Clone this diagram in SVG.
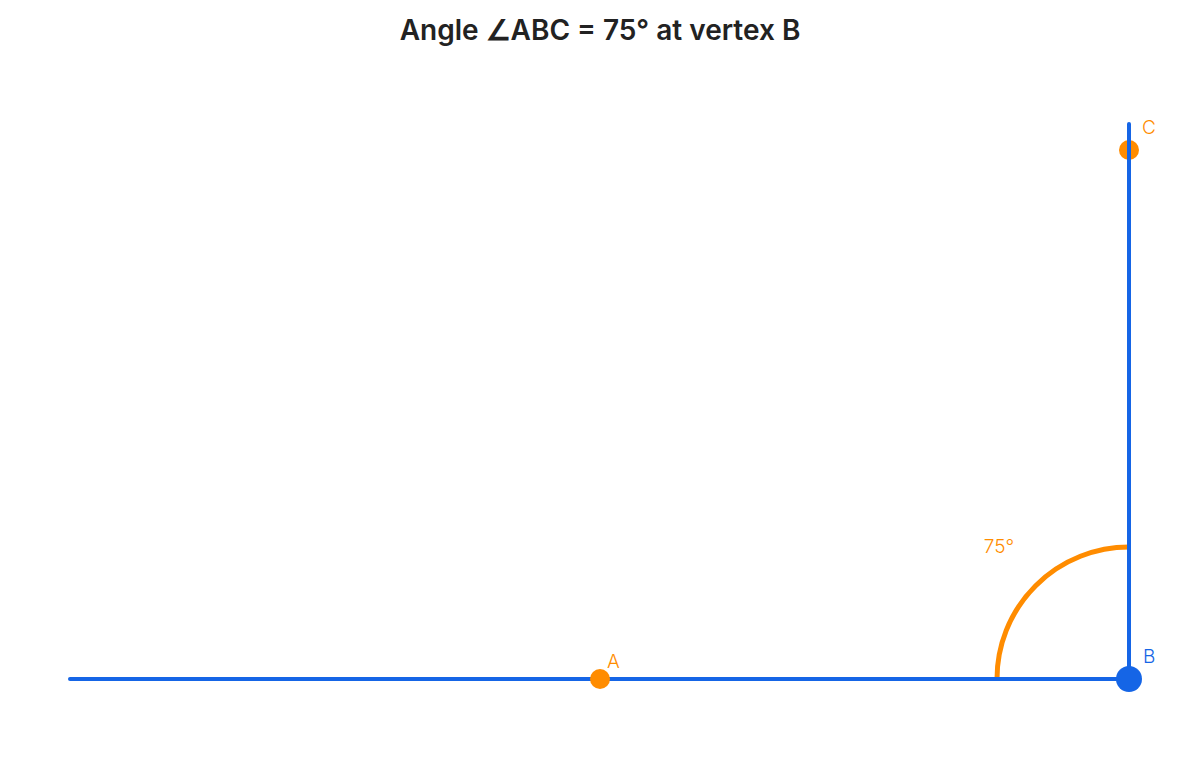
<svg xmlns="http://www.w3.org/2000/svg" width="1200" height="762" viewBox="0 0 1200 762">
<style>
.ray{stroke:#1565e6;stroke-width:4;stroke-linecap:round;fill:none}
.arc{stroke:#ff8c00;stroke-width:5;fill:none}
.pt{fill:#ff8c00}
.vx{fill:#1565e6}
.lbl{font-family:Inter,"Liberation Sans",sans-serif;font-size:19px;font-weight:300}
.o{fill:#ff8c00}
.b{fill:#1565e6}
.title{font-family:Inter,"Liberation Sans",sans-serif;font-size:28px;font-weight:600;fill:#222}
</style>
<rect width="1200" height="762" fill="#fff"/>
<text class="title" x="600" y="40" text-anchor="middle">Angle ∠ABC = 75° at vertex B</text>
<g id="angle-arc">
<path class="arc" d="M997 679 A132 132 0 0 1 1129 547"/>
<text class="lbl o" x="999" y="553" text-anchor="middle">75°</text>
</g>
<g id="point-C">
<circle class="pt" cx="1129" cy="150" r="10"/>
<text class="lbl o" x="1142" y="134">C</text>
</g>
<g id="connectors">
<line class="ray" x1="70" y1="679" x2="1129" y2="679"/>
<line class="ray" x1="1129" y1="679" x2="1129" y2="124"/>
</g>
<g id="point-A">
<circle class="pt" cx="600" cy="679" r="10"/>
<text class="lbl o" x="607" y="668">A</text>
</g>
<g id="vertex-B">
<circle class="vx" cx="1129" cy="679" r="13"/>
<text class="lbl b" x="1143" y="663">B</text>
</g>
</svg>
